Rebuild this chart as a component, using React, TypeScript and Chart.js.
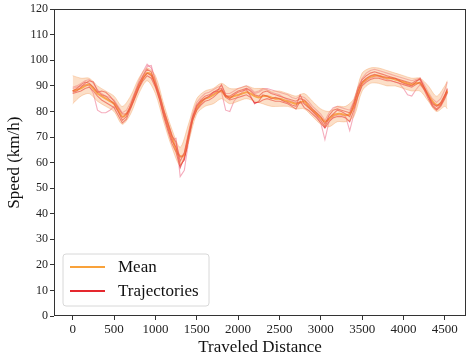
import React, { useEffect, useRef } from 'react';
import { Chart, registerables } from 'chart.js';

Chart.register(...registerables);

const distance = [
  0, 50, 100, 150, 200, 250, 300, 350, 400, 450, 500, 550, 600, 650, 700, 750, 800, 850, 900, 950,
  1000, 1050, 1100, 1150, 1200, 1250, 1300, 1350, 1400, 1450, 1500, 1550, 1600, 1650, 1700, 1750, 1800, 1850, 1900, 1950,
  2000, 2050, 2100, 2150, 2200, 2250, 2300, 2350, 2400, 2450, 2500, 2550, 2600, 2650, 2700, 2750, 2800, 2850, 2900, 2950,
  3000, 3050, 3100, 3150, 3200, 3250, 3300, 3350, 3400, 3450, 3500, 3550, 3600, 3650, 3700, 3750, 3800, 3850, 3900, 3950,
  4000, 4050, 4100, 4150, 4200, 4250, 4300, 4350, 4400, 4450, 4500, 4530,
];

const meanSpeed = [
  88, 88.5, 89, 90, 90.5, 89, 87, 86, 85, 84, 83, 80.5, 78, 79, 82, 86, 90, 93, 95, 94.5,
  91, 86, 80, 75, 70, 65, 62.5, 63, 70, 77, 81, 83.5, 85, 85.5, 86.5, 87.5, 88, 86, 85.5, 86,
  86.5, 87, 87.5, 87, 86, 85.5, 86, 86, 85.5, 85, 85, 84.5, 84, 83.5, 83, 83.5, 84, 82, 80.5, 79,
  77.5, 76, 77, 78.5, 79, 79, 78.5, 79, 82, 87, 91, 92.5, 93.5, 94, 94, 93.5, 93, 93, 92.5, 92,
  91.5, 91, 90.5, 91, 91, 89, 86.5, 84, 82.5, 83, 86, 88,
];

const trajA = [
  87.5, 88, 89.5, 91, 92, 91.5, 88, 86.5, 86, 84.5, 83, 80, 76.5, 78, 82.5, 87, 91, 94, 96.5, 95.5,
  90, 85, 79, 73.5, 68.5, 66, 59, 61, 69, 77.5, 82, 84, 85, 86, 87.5, 88, 90.5, 86.5, 85, 86.5,
  87.5, 88, 88.5, 86, 83, 84, 86.5, 86, 85, 85.5, 85, 84, 83.5, 82.5, 82, 86.5, 83, 81.5, 80, 78.5,
  76.5, 74, 77.5, 79, 80.5, 80, 79, 78, 82.5, 88, 91.5, 93, 94, 94.5, 94, 93.5, 93.5, 93, 93, 92,
  91, 90.5, 90, 91.5, 93, 89.5, 86, 83, 82, 83.5, 86.5, 88.5,
];

const trajB = [
  89, 89.5, 90, 90.5, 90, 87, 80.5, 79.5, 79.5, 80.5, 82, 80, 77.5, 79.5, 82, 86, 90.5, 94, 97.5, 98,
  92, 85.5, 79, 74, 69, 69.5, 54.5, 57, 68, 76.5, 81, 83, 85, 86, 87, 88, 87.5, 80.5, 80, 84,
  86, 87.5, 89, 88.5, 87, 87.5, 88.5, 88.5, 87.5, 87, 86.5, 85.5, 84.5, 84, 83.5, 83.5, 83, 82, 80, 78,
  75.5, 69, 76, 78, 78.5, 78.5, 78, 72.5, 79, 86, 90.5, 92, 93, 93.5, 93.5, 93, 92.5, 92, 91.5, 91,
  89, 86.5, 86, 88.5, 90.5, 88.5, 86, 83.5, 82, 83, 85.5, 87,
];

const trajC = [
  88, 89, 90.5, 91.5, 91, 89.5, 87.5, 88, 87.5, 86, 84, 81.5, 79, 79, 81.5, 85.5, 89.5, 93, 95, 94,
  90.5, 86.5, 80.5, 75.5, 70.5, 68, 60.5, 64, 71, 78, 82.5, 84.5, 86, 86.5, 87.5, 88.5, 89, 86, 86, 87,
  88, 88.5, 89, 88, 86.5, 86, 87.5, 88, 87, 86.5, 86, 85.5, 85, 84.5, 84, 85, 84.5, 83, 81, 79.5,
  78, 75, 78.5, 80.5, 81, 80.5, 80, 79.5, 83.5, 89, 92.5, 94, 95, 95.5, 95, 94.5, 94, 93.5, 93, 92.5,
  92, 91.5, 91, 92, 92.5, 89.5, 86, 82.5, 81, 82.5, 86, 89,
];

const trajD = [
  87, 87.5, 88, 89, 89.5, 88, 86, 84.5, 83.5, 82.5, 81.5, 78.5, 75.5, 77, 81, 85, 89, 92, 94, 93,
  89.5, 84.5, 78, 72.5, 67.5, 64, 58, 62, 70, 76.5, 80.5, 82.5, 84, 84.5, 85.5, 87, 88.5, 85.5, 84.5, 85,
  85.5, 86, 86.5, 85.5, 83.5, 83.5, 84.5, 85, 84.5, 84, 84, 83.5, 83, 82, 81, 84, 81.5, 80.5, 79, 77.5,
  75.5, 73.5, 76, 77.5, 78, 78, 77.5, 76, 80.5, 86, 90, 91.5, 92.5, 93, 93, 92.5, 92, 92, 91.5, 91,
  90.5, 90, 89.5, 90.5, 91.5, 88.5, 85, 82, 80.5, 82, 85, 87.5,
];

const trajE = [
  89.5, 90, 91, 92, 92.5, 91, 88.5, 87, 86, 85.5, 84.5, 82, 79.5, 80.5, 83.5, 87.5, 92, 95.5, 98.5, 97,
  92.5, 87, 81, 76, 71, 67, 62, 63.5, 72, 79, 83.5, 85.5, 87, 87.5, 88.5, 89.5, 90, 87, 87, 88,
  89, 89.5, 90, 89, 87.5, 88, 89, 89, 88.5, 88, 87.5, 87, 86.5, 85.5, 85, 86, 85.5, 84, 82, 80.5,
  79, 76.5, 79.5, 81.5, 82, 81.5, 81, 80.5, 84, 89.5, 93, 95, 96, 96.5, 96, 95.5, 95, 94.5, 94, 93.5,
  93, 92.5, 92, 92.5, 93, 90.5, 87.5, 85, 83.5, 85, 88.5, 91.5,
];

const bandDistance = [
  0, 100, 200, 300, 400, 500, 600, 700, 800, 900, 1000, 1100, 1200, 1300, 1400, 1500, 1600, 1700, 1800, 1900,
  2000, 2100, 2200, 2300, 2400, 2500, 2600, 2700, 2800, 2900, 3000, 3100, 3200, 3300, 3400, 3500, 3600, 3700, 3800, 3900,
  4000, 4100, 4200, 4300, 4400, 4500, 4530,
];

const bandUpper = [
  94, 93, 93, 90, 88, 86, 82, 86, 93, 97, 94, 83, 73, 66, 75, 85, 88, 89, 91, 89,
  89, 90, 89, 89, 88, 88, 87, 86, 87, 84, 81, 80, 82, 82, 85, 95, 97, 97, 96, 95,
  94, 93, 93, 90, 86, 90, 92,
];

const bandLower = [
  83, 86, 87, 84, 82, 80, 75, 79, 87, 92, 87, 76, 66, 59, 68, 79, 82, 83, 85, 83,
  84, 85, 84, 83, 82, 82, 82, 81, 81, 78, 75, 74, 76, 76, 78, 88, 91, 91, 90, 90,
  89, 88, 88, 84, 80, 82, 81,
];

const xTickValues = [0, 500, 1000, 1500, 2000, 2500, 3000, 3500, 4000, 4500];
const yTickValues = [0, 10, 20, 30, 40, 50, 60, 70, 80, 90, 100, 110, 120];

const legendItems = [
  { label: 'Mean', color: '#f9a23a' },
  { label: 'Trajectories', color: '#e5282e' },
];

const SERIF = '"Liberation Serif", "Times New Roman", serif';

function toPoints(xs: number[], ys: number[]) {
  return ys.map((y, i) => ({ x: xs[i], y }));
}

const framePlugin = {
  id: 'frameAndLegend',
  afterDraw(chart: any) {
    const { ctx, chartArea: a } = chart;
    ctx.save();
    ctx.strokeStyle = '#333';
    ctx.lineWidth = 1;
    ctx.strokeRect(Math.round(a.left) + 0.5, Math.round(a.top) + 0.5, Math.round(a.right - a.left) - 1, Math.round(a.bottom - a.top) - 1);
    const lx = a.left + 9;
    const ly = a.bottom - 62;
    const lw = 146;
    const lh = 52;
    ctx.beginPath();
    const r = 3;
    ctx.moveTo(lx + r, ly);
    ctx.lineTo(lx + lw - r, ly);
    ctx.quadraticCurveTo(lx + lw, ly, lx + lw, ly + r);
    ctx.lineTo(lx + lw, ly + lh - r);
    ctx.quadraticCurveTo(lx + lw, ly + lh, lx + lw - r, ly + lh);
    ctx.lineTo(lx + r, ly + lh);
    ctx.quadraticCurveTo(lx, ly + lh, lx, ly + lh - r);
    ctx.lineTo(lx, ly + r);
    ctx.quadraticCurveTo(lx, ly, lx + r, ly);
    ctx.closePath();
    ctx.fillStyle = 'rgba(255,255,255,0.85)';
    ctx.fill();
    ctx.strokeStyle = '#d8d8d8';
    ctx.lineWidth = 1;
    ctx.stroke();
    legendItems.forEach((item, i) => {
      const cy = ly + 13 + i * 24;
      ctx.strokeStyle = item.color;
      ctx.lineWidth = 2;
      ctx.beginPath();
      ctx.moveTo(lx + 7, cy);
      ctx.lineTo(lx + 42, cy);
      ctx.stroke();
      ctx.fillStyle = '#111';
      ctx.font = `17px ${SERIF}`;
      ctx.textBaseline = 'middle';
      ctx.textAlign = 'left';
      ctx.fillText(item.label, lx + 55, cy + 1);
    });
    ctx.restore();
  },
};

export default function App() {
  const canvasRef = useRef<HTMLCanvasElement | null>(null);

  useEffect(() => {
    document.body.style.margin = '0';
    const canvas = canvasRef.current;
    if (!canvas) return;
    const trajStrong = 'rgba(228,25,35,0.65)';
    const trajFaint = 'rgba(230,50,90,0.4)';
    const trajStyle = (data: number[], color: string) => ({
      data: toPoints(distance, data),
      borderColor: color,
      borderWidth: 1.1,
      pointRadius: 0,
      fill: false,
      tension: 0,
    });
    const chart = new Chart(canvas, {
      type: 'line',
      data: {
        datasets: [
          {
            data: toPoints(bandDistance, bandUpper),
            borderColor: 'rgba(240,150,80,0.45)',
            borderWidth: 0.8,
            pointRadius: 0,
            fill: false,
            tension: 0.3,
          },
          {
            data: toPoints(bandDistance, bandLower),
            borderColor: 'rgba(240,150,80,0.45)',
            borderWidth: 0.8,
            backgroundColor: 'rgba(246,170,110,0.38)',
            pointRadius: 0,
            fill: '-1',
            tension: 0.3,
          },
          trajStyle(trajB, trajFaint),
          trajStyle(trajE, trajFaint),
          trajStyle(trajA, trajStrong),
          trajStyle(trajC, trajStrong),
          trajStyle(trajD, trajStrong),
          {
            data: toPoints(distance, meanSpeed),
            borderColor: '#f9a23a',
            borderWidth: 2,
            pointRadius: 0,
            fill: false,
            tension: 0.3,
          },
        ],
      },
      options: {
        responsive: false,
        animation: false,
        layout: { padding: { left: 0, right: 8, top: 9, bottom: 0 } },
        plugins: {
          legend: { display: false },
          tooltip: { enabled: false },
        },
        scales: {
          x: {
            type: 'linear',
            min: -226,
            max: 4756,
            afterBuildTicks: (scale: any) => {
              scale.ticks = xTickValues.map((v) => ({ value: v }));
            },
            afterFit: (scale: any) => {
              scale.height = 43;
            },
            grid: { display: true, drawOnChartArea: false, drawTicks: true, tickLength: 4, color: '#333' },
            border: { display: false },
            ticks: {
              font: { family: SERIF, size: 13 },
              color: '#222',
              padding: 2,
              maxRotation: 0,
              autoSkip: false,
              callback: (v: any) => String(v),
            },
            title: {
              display: true,
              text: 'Traveled Distance',
              font: { family: SERIF, size: 17 },
              color: '#111',
              padding: { top: 0, bottom: 1 },
            },
          },
          y: {
            type: 'linear',
            min: 0,
            max: 120,
            afterBuildTicks: (scale: any) => {
              scale.ticks = yTickValues.map((v) => ({ value: v }));
            },
            afterFit: (scale: any) => {
              scale.width = 54;
            },
            grid: { display: true, drawOnChartArea: false, drawTicks: true, tickLength: 4, color: '#333' },
            border: { display: false },
            ticks: {
              font: { family: SERIF, size: 12 },
              color: '#222',
              padding: 2,
              autoSkip: false,
              callback: (v: any) => String(v),
            },
            title: {
              display: true,
              text: 'Speed (km/h)',
              font: { family: SERIF, size: 17 },
              color: '#111',
              padding: { top: 4, bottom: 0 },
            },
          },
        },
      },
      plugins: [framePlugin],
    } as any);
    return () => chart.destroy();
  }, []);

  return (
    <div style={{ width: 474, height: 359 }}>
      <canvas ref={canvasRef} width={474} height={359} style={{ display: 'block' }} />
    </div>
  );
}
